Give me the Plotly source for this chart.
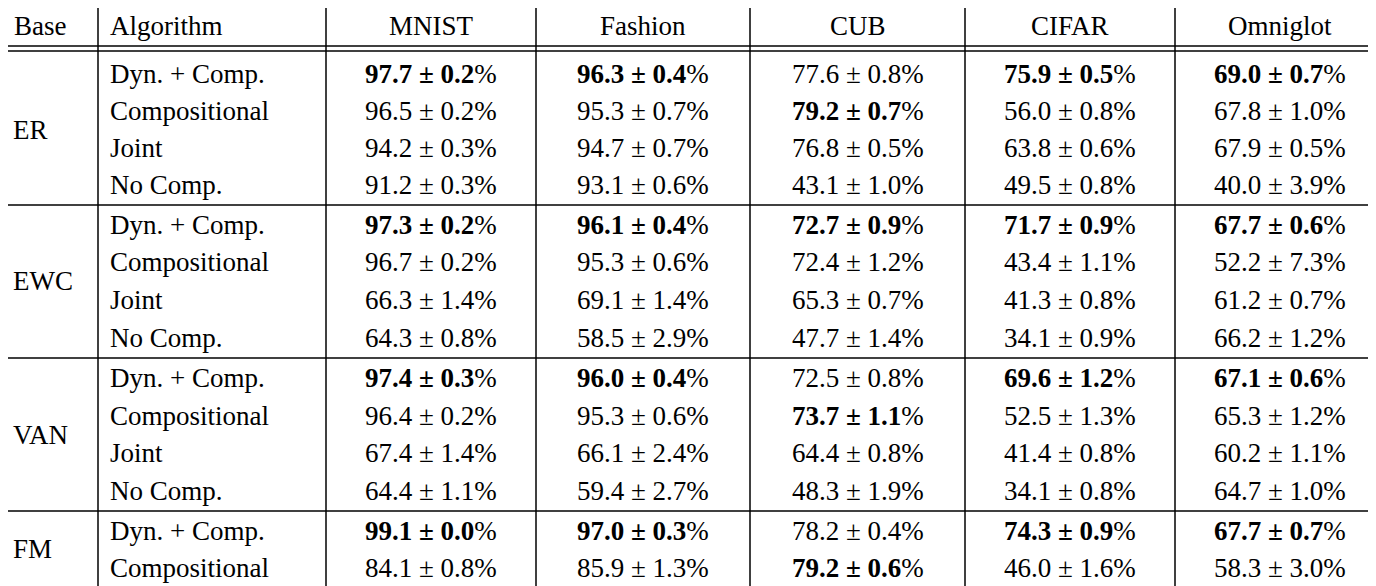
import plotly.graph_objects as go

datasets = ["MNIST", "Fashion", "CUB", "CIFAR", "Omniglot"]
bases = ["ER", "EWC", "VAN", "FM"]
algos4 = ["Dyn. + Comp.", "Compositional", "Joint", "No Comp."]
algos = algos4 * 3 + algos4[:2]

mnist_m = [97.7, 96.5, 94.2, 91.2, 97.3, 96.7, 66.3, 64.3, 97.4, 96.4, 67.4, 64.4, 99.1, 84.1]
mnist_s = [0.2, 0.2, 0.3, 0.3, 0.2, 0.2, 1.4, 0.8, 0.3, 0.2, 1.4, 1.1, 0.0, 0.8]
fash_m = [96.3, 95.3, 94.7, 93.1, 96.1, 95.3, 69.1, 58.5, 96.0, 95.3, 66.1, 59.4, 97.0, 85.9]
fash_s = [0.4, 0.7, 0.7, 0.6, 0.4, 0.6, 1.4, 2.9, 0.4, 0.6, 2.4, 2.7, 0.3, 1.3]
cub_m = [77.6, 79.2, 76.8, 43.1, 72.7, 72.4, 65.3, 47.7, 72.5, 73.7, 64.4, 48.3, 78.2, 79.2]
cub_s = [0.8, 0.7, 0.5, 1.0, 0.9, 1.2, 0.7, 1.4, 0.8, 1.1, 0.8, 1.9, 0.4, 0.6]
cifar_m = [75.9, 56.0, 63.8, 49.5, 71.7, 43.4, 41.3, 34.1, 69.6, 52.5, 41.4, 34.1, 74.3, 46.0]
cifar_s = [0.5, 0.8, 0.6, 0.8, 0.9, 1.1, 0.8, 0.9, 1.2, 1.3, 0.8, 0.8, 0.9, 1.6]
omni_m = [69.0, 67.8, 67.9, 40.0, 67.7, 52.2, 61.2, 66.2, 67.1, 65.3, 60.2, 64.7, 67.7, 58.3]
omni_s = [0.7, 1.0, 0.5, 3.9, 0.6, 7.3, 0.7, 1.2, 0.6, 1.2, 1.1, 1.0, 0.7, 3.0]

mnist_b = [0, 4, 8, 12]
fash_b = [0, 4, 8, 12]
cub_b = [1, 4, 9, 13]
cifar_b = [0, 4, 8, 12]
omni_b = [0, 4, 8, 12]

means = [mnist_m, fash_m, cub_m, cifar_m, omni_m]
stds = [mnist_s, fash_s, cub_s, cifar_s, omni_s]
bolds = [mnist_b, fash_b, cub_b, cifar_b, omni_b]

W, H = 1376, 586
col_edges = [0, 90, 318, 528, 742, 957, 1167, 1376]
header_y = 18
row_y = [66, 103, 140, 177, 217, 254, 292, 330, 370, 408, 445, 483, 523, 560]
group_lines = [197, 350, 503]
base_y = [122, 273, 427, 541]

FONT = "Liberation Serif, Times New Roman, serif"
FS = 27
fig = go.Figure()
ann = []
shapes = []

def txt(x, y, s, anchor="center"):
    ann.append(dict(x=x, y=y, text=s, showarrow=False, xanchor=anchor, yanchor="middle",
                    font=dict(family=FONT, size=FS, color="black"), xref="x", yref="y"))

txt(4, header_y, "Base", "left")
txt(100, header_y, "Algorithm", "left")
for j, d in enumerate(datasets):
    txt((col_edges[j + 2] + col_edges[j + 3]) / 2, header_y, d)
for b, y in zip(bases, base_y):
    txt(3, y, b, "left")
for i, a in enumerate(algos):
    txt(100, row_y[i], a, "left")
for j in range(5):
    cx = (col_edges[j + 2] + col_edges[j + 3]) / 2
    for i in range(len(row_y)):
        s = f"{means[j][i]:.1f} ± {stds[j][i]:.1f}%"
        if i in bolds[j]:
            s = f"<b>{means[j][i]:.1f} ± {stds[j][i]:.1f}</b>%"
        txt(cx, row_y[i], s)

def line(x0, y0, x1, y1):
    shapes.append(dict(type="line", x0=x0, y0=y0, x1=x1, y1=y1, xref="x", yref="y",
                       line=dict(color="black", width=1.5)))

for x in col_edges[1:-1]:
    line(x, 0, x, H)
line(0, 38, W, 38)
line(0, 43, W, 43)
for y in group_lines:
    line(0, y, W, y)

fig.update_layout(width=W, height=H, margin=dict(l=0, r=0, t=0, b=0),
                  paper_bgcolor="white", plot_bgcolor="white",
                  annotations=ann, shapes=shapes, showlegend=False,
                  xaxis=dict(range=[0, W], visible=False, fixedrange=True),
                  yaxis=dict(range=[H, 0], visible=False, fixedrange=True))
fig.write_html("out.html")
